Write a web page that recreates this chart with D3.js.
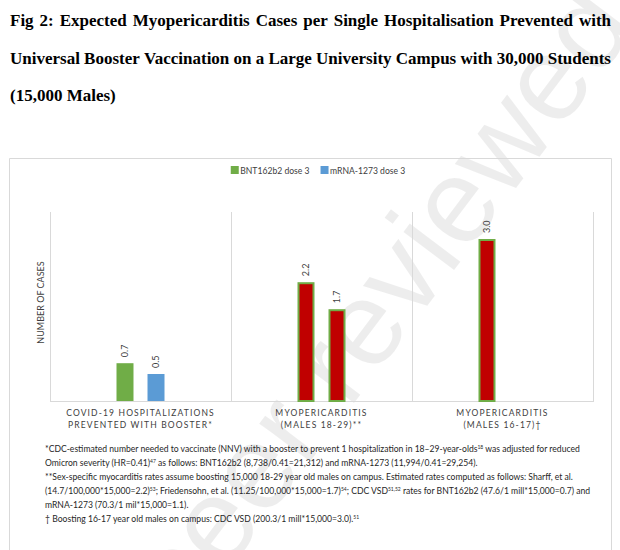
<!DOCTYPE html>
<html><head><meta charset="utf-8">
<script src="https://cdn.jsdelivr.net/npm/d3@7"></script>
<style>body{margin:0;background:#fff}svg{display:block}</style>
</head><body>
<script>
const titleLines = [
  "Fig 2: Expected Myopericarditis Cases per Single Hospitalisation Prevented with",
  "Universal Booster Vaccination on a Large University Campus with 30,000 Students",
  "(15,000 Males)"
];
const categories = [
  ["COVID-19 HOSPITALIZATIONS", "PREVENTED WITH BOOSTER*"],
  ["MYOPERICARDITIS", "(MALES 18-29)**"],
  ["MYOPERICARDITIS", "(MALES 16-17)\u2020"]
];
const seriesNames = ["BNT162b2 dose 3", "mRNA-1273 dose 3"];
const bnt162b2 = [0.7, 2.2, 3.0];
const mrna1273 = [0.5, 1.7, null];
const yMax = 3.5;
const yTitle = "NUMBER OF CASES";
// footnote lines: arrays of [text, isSuperscript]
const footnotes = [
  [["*CDC-estimated number needed to vaccinate (NNV) with a booster to prevent 1 hospitalization in 18\u201329-year-olds"],["18",1],[" was adjusted for reduced"]],
  [["Omicron severity (HR=0.41)"],["47",1],[" as follows: BNT162b2 (8,738/0.41=21,312) and mRNA-1273 (11,994/0.41=29,254)."]],
  [["**Sex-specific myocarditis rates assume boosting 15,000 18-29 year old males on campus. Estimated rates computed as follows: Sharff, et al."]],
  [["(14.7/100,000*15,000=2.2)"],["53",1],["; Friedensohn, et al. (11.25/100,000*15,000=1.7)"],["54",1],["; CDC VSD"],["51,52",1],[" rates for BNT162b2 (47.6/1 mill*15,000=0.7) and"]],
  [["mRNA-1273 (70.3/1 mil*15,000=1.1)."]],
  [["\u2020 Boosting 16-17 year old males on campus: CDC VSD (200.3/1 mill*15,000=3.0)."],["51",1]]
];
const watermark = "Not peer reviewed";

const W = 620, H = 550;
const svg = d3.select("body").append("svg").attr("width", W).attr("height", H);

// Watermark (behind)
const wm = svg.append("text").attr("transform", "translate(345,415) rotate(-53)")
  .attr("text-anchor", "middle").attr("font-family", "'Liberation Sans', Arial, sans-serif")
  .attr("font-size", 120).attr("fill", "#000").attr("fill-opacity", 0.07).text(watermark);

// Title (justified)
const titleFont = "'Liberation Serif','Times New Roman',serif";
titleLines.forEach((line, i) => {
  const yy = 26 + i * 37.5;
  const t = svg.append("text").attr("y", yy)
    .attr("font-family", titleFont).attr("font-weight", "bold").attr("font-size", 17).attr("fill", "#000");
  if (i < 2) {
    const words = line.split(" ");
    const spans = words.map(w => t.append("tspan").text(w));
    const widths = spans.map(s => s.node().getComputedTextLength());
    const total = d3.sum(widths);
    const gap = (611 - 10 - total) / (words.length - 1);
    let x = 10;
    spans.forEach((s, k) => { s.attr("x", x); x += widths[k] + gap; });
  } else {
    t.attr("x", 10).text(line);
  }
});

// Outer chart box
const box = svg.append("g").attr("fill", "none").attr("stroke", "#d9d9d9").attr("stroke-width", 1);
box.append("line").attr("x1", 9.5).attr("x2", 611.5).attr("y1", 158.5).attr("y2", 158.5);
box.append("line").attr("x1", 9.5).attr("x2", 9.5).attr("y1", 158.5).attr("y2", 560);
box.append("line").attr("x1", 611.5).attr("x2", 611.5).attr("y1", 158.5).attr("y2", 560);

// Plot
const plot = {left: 50, right: 593, top: 212, bottom: 401};
const x0 = d3.scaleBand().domain(d3.range(categories.length)).range([plot.left, plot.right]);
const groupW = 48;
const x1 = d3.scaleBand().domain(seriesNames).range([0, groupW]).paddingInner(0.452);
const y = d3.scaleLinear().domain([0, yMax]).range([plot.bottom, plot.top]);

const grid = svg.append("g").attr("stroke", "#d9d9d9").attr("stroke-width", 1);
const edges = [plot.left].concat(d3.range(1, categories.length).map(i => x0(i))).concat([plot.right]);
edges.forEach(e => grid.append("line").attr("x1", Math.round(e) + 0.5).attr("x2", Math.round(e) + 0.5)
  .attr("y1", plot.top).attr("y2", plot.bottom));
grid.append("line").attr("x1", plot.left).attr("x2", plot.right + 1)
  .attr("y1", plot.bottom + 0.5).attr("y2", plot.bottom + 0.5);

const seriesColors = ["#70AD47", "#5B9BD5"];
const seriesData = [bnt162b2, mrna1273];
const bars = [];
seriesData.forEach((vals, si) => vals.forEach((v, ci) => {
  if (v != null) bars.push({si, ci, v});
}));
const labelFont = "Lato, 'Noto Sans', sans-serif";
const gBars = svg.append("g");
bars.forEach(b => {
  const bx = x0(b.ci) + (x0.bandwidth() - groupW) / 2 + x1(seriesNames[b.si]);
  const bw = x1.bandwidth();
  const highlight = b.ci > 0;
  if (highlight) {
    gBars.append("rect").attr("x", bx + 1).attr("y", y(b.v) + 1)
      .attr("width", bw - 2).attr("height", y(0) - y(b.v) - 1)
      .attr("fill", "#C00000").attr("stroke", "#70AD47").attr("stroke-width", 2);
  } else {
    gBars.append("rect").attr("x", bx).attr("y", y(b.v))
      .attr("width", bw).attr("height", y(0) - y(b.v))
      .attr("fill", seriesColors[b.si]);
  }
  const cx = bx + bw / 2, ty = y(b.v) - 6;
  gBars.append("text").attr("transform", `translate(${cx + 3},${ty}) rotate(-90)`)
    .attr("font-family", labelFont).attr("font-size", 9)
    .attr("fill", "#404040").text(b.v.toFixed(1));
});

// Category labels
categories.forEach((lines, ci) => {
  lines.forEach((ln, li) => {
    svg.append("text").attr("x", x0(ci) + x0.bandwidth() / 2).attr("y", 415.5 + li * 12)
      .attr("text-anchor", "middle").attr("font-family", labelFont).attr("font-size", 8.5)
      .attr("letter-spacing", "1.15px").attr("fill", "#404040").text(ln);
  });
});

// Y title
svg.append("text").attr("transform", `translate(44,${(plot.top + plot.bottom) / 2 - 4}) rotate(-90)`)
  .attr("text-anchor", "middle").attr("font-family", labelFont).attr("font-size", 9)
  .attr("fill", "#404040").text(yTitle);

// Legend (centered)
const leg = svg.append("g").attr("font-family", labelFont).attr("font-size", 8.6).attr("fill", "#404040");
const items = seriesNames.map((n, i) => {
  const g = leg.append("g");
  g.append("rect").attr("x", 0).attr("y", -7.5).attr("width", 8).attr("height", 8).attr("fill", seriesColors[i]);
  const t = g.append("text").attr("x", 9.5).attr("y", 0).text(n);
  return {g, w: 9.5 + t.node().getComputedTextLength()};
});
const legGap = 11;
const legTotal = d3.sum(items, d => d.w) + legGap * (items.length - 1);
let lx = 318 - legTotal / 2;
items.forEach(it => { it.g.attr("transform", `translate(${lx},173.5)`); lx += it.w + legGap; });

// Footnotes
footnotes.forEach((parts, li) => {
  const t = svg.append("text").attr("x", 45).attr("y", 452 + li * 14)
    .attr("font-family", labelFont).attr("font-size", 8.6).attr("fill", "#262626");
  parts.forEach(p => {
    const s = t.append("tspan").text(p[0]);
    if (p[1]) s.attr("font-size", 5).attr("baseline-shift", "super");
  });
});
</script>
</body></html>
